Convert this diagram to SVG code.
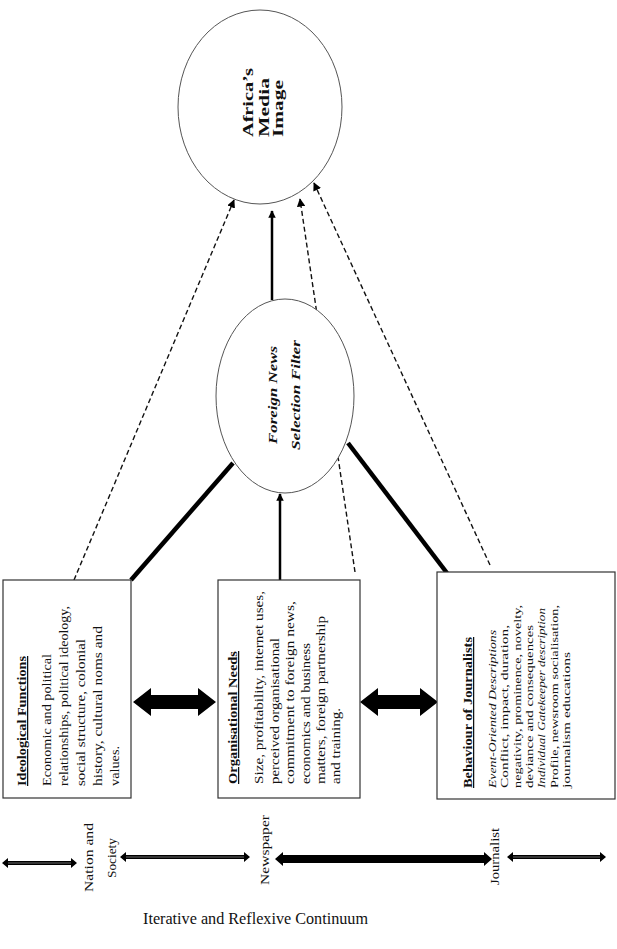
<svg xmlns="http://www.w3.org/2000/svg" width="617" height="949" viewBox="0 0 617 949">
<style>
text{font-family:"Liberation Serif","DejaVu Serif",serif;fill:#111}
.b{font-size:12px}
.s{font-size:11px}
.t{font-size:12.5px;font-weight:bold;text-decoration:underline}
.i{font-style:italic}
.box{fill:#fff;stroke:#333;stroke-width:1.2}
.ell{fill:#fff;stroke:#555;stroke-width:1}
.dash{stroke:#111;stroke-width:1.4;stroke-dasharray:5 3;fill:none}
.thick{stroke:#000;stroke-width:4.5}
.solid{stroke:#000;stroke-width:2.5}
.lab{font-size:11.5px}
</style>
<defs>
<marker id="ah" viewBox="0 0 10 10" refX="9" refY="5" markerWidth="6" markerHeight="6" orient="auto" markerUnits="strokeWidth"><path d="M0,0L10,5L0,10z" fill="#000"/></marker>
<marker id="ahs" viewBox="0 0 10 10" refX="9" refY="5" markerWidth="3" markerHeight="3" orient="auto" markerUnits="strokeWidth"><path d="M0,0L10,5L0,10z" fill="#000"/></marker>
</defs>
<g id="connectors">
<line class="dash" x1="74" y1="580" x2="234" y2="200" marker-end="url(#ah)"/>
<line class="dash" x1="355" y1="572" x2="300" y2="199" marker-end="url(#ah)"/>
<line class="dash" x1="490" y1="565" x2="314" y2="183" marker-end="url(#ah)"/>
<line class="solid" x1="272" y1="300" x2="272" y2="211" marker-end="url(#ahs)"/>
<line class="thick" x1="131" y1="580" x2="233" y2="463"/>
<line class="thick" x1="447" y1="573" x2="348" y2="443"/>
<line class="solid" x1="280" y1="580" x2="280" y2="494" marker-end="url(#ahs)"/>
<path d="M133,702 L151,688 L151,695 L198,695 L198,688 L216,702 L198,716 L198,709 L151,709 L151,716 Z" fill="#000"/>
<path d="M360,702 L378,688 L378,695 L420,695 L420,688 L438,702 L420,716 L420,709 L378,709 L378,716 Z" fill="#000"/>
</g>
<g id="africa-media-image">
<ellipse class="ell" cx="260" cy="107" rx="82" ry="97"/>
<text transform="translate(253,137) rotate(-90)" font-size="15" font-weight="bold" textLength="69" lengthAdjust="spacingAndGlyphs">Africa’s</text>
<text transform="translate(269,137) rotate(-90)" font-size="15" font-weight="bold" textLength="59" lengthAdjust="spacingAndGlyphs">Media</text>
<text transform="translate(283,137) rotate(-90)" font-size="15" font-weight="bold" textLength="57" lengthAdjust="spacingAndGlyphs">Image</text>
</g>
<g id="selection-filter">
<ellipse class="ell" cx="285" cy="396" rx="69" ry="97"/>
<text transform="translate(277,444) rotate(-90)" font-size="12" font-weight="bold" font-style="italic" textLength="98" lengthAdjust="spacingAndGlyphs">Foreign News</text>
<text transform="translate(300,450) rotate(-90)" font-size="12" font-weight="bold" font-style="italic" textLength="110" lengthAdjust="spacingAndGlyphs">Selection Filter</text>
</g>
<g id="ideological-functions">
<rect class="box" x="3" y="580" width="128" height="218"/>
<text class="t" transform="translate(26,786) rotate(-90)" textLength="130" lengthAdjust="spacingAndGlyphs">Ideological Functions</text>
<text class="b" transform="translate(51,786) rotate(-90)" textLength="132" lengthAdjust="spacingAndGlyphs">Economic and political</text>
<text class="b" transform="translate(68,786) rotate(-90)" textLength="180" lengthAdjust="spacingAndGlyphs">relationships, political ideology,</text>
<text class="b" transform="translate(85,786) rotate(-90)" textLength="147" lengthAdjust="spacingAndGlyphs">social structure, colonial</text>
<text class="b" transform="translate(102,786) rotate(-90)" textLength="160" lengthAdjust="spacingAndGlyphs">history, cultural noms and</text>
<text class="b" transform="translate(119,786) rotate(-90)" textLength="40" lengthAdjust="spacingAndGlyphs">values.</text>
</g>
<g id="organisational-needs">
<rect class="box" x="218" y="580" width="142" height="218"/>
<text class="t" transform="translate(237,784) rotate(-90)" textLength="133" lengthAdjust="spacingAndGlyphs">Organisational Needs</text>
<text class="b" transform="translate(263,784) rotate(-90)" textLength="193" lengthAdjust="spacingAndGlyphs">Size, profitability, internet uses,</text>
<text class="b" transform="translate(279,784) rotate(-90)" textLength="146" lengthAdjust="spacingAndGlyphs">perceived organisational</text>
<text class="b" transform="translate(294,784) rotate(-90)" textLength="183" lengthAdjust="spacingAndGlyphs">commitment to foreign news,</text>
<text class="b" transform="translate(310,784) rotate(-90)" textLength="141" lengthAdjust="spacingAndGlyphs">economics and business</text>
<text class="b" transform="translate(325,784) rotate(-90)" textLength="168" lengthAdjust="spacingAndGlyphs">matters, foreign partnership</text>
<text class="b" transform="translate(340,784) rotate(-90)" textLength="76" lengthAdjust="spacingAndGlyphs">and  training.</text>
</g>
<g id="behaviour-of-journalists">
<rect class="box" x="437" y="572" width="178" height="227"/>
<text class="t" transform="translate(472,788) rotate(-90)" textLength="151" lengthAdjust="spacingAndGlyphs">Behaviour of Journalists</text>
<text class="s i" transform="translate(496,788) rotate(-90)" textLength="158" lengthAdjust="spacingAndGlyphs">Event-Oriented Descriptions</text>
<text class="s" transform="translate(508,788) rotate(-90)" textLength="163" lengthAdjust="spacingAndGlyphs">Conflict, impact, duration,</text>
<text class="s" transform="translate(521,788) rotate(-90)" textLength="183" lengthAdjust="spacingAndGlyphs">negativity, prominence, novelty,</text>
<text class="s" transform="translate(533,788) rotate(-90)" textLength="163" lengthAdjust="spacingAndGlyphs">deviance and consequences</text>
<text class="s i" transform="translate(545,788) rotate(-90)" textLength="180" lengthAdjust="spacingAndGlyphs">Individual Gatekeeper description</text>
<text class="s" transform="translate(558,788) rotate(-90)" textLength="183" lengthAdjust="spacingAndGlyphs">Profile, newsroom socialisation,</text>
<text class="s" transform="translate(570,788) rotate(-90)" textLength="136" lengthAdjust="spacingAndGlyphs">journalism educations</text>
</g>
<g id="continuum">
<path d="M2,863 L8,858 L8,861 L71,861 L71,858 L77,863 L71,868 L71,865 L8,865 L8,868 Z" fill="#000"/>
<line x1="8" y1="863" x2="71" y2="863" stroke="#888" stroke-width="0.8"/>
<path d="M120,857 L126,852 L126,855 L244,855 L244,852 L250,857 L244,862 L244,859 L126,859 L126,862 Z" fill="#000"/>
<line x1="126" y1="857" x2="244" y2="857" stroke="#888" stroke-width="0.8"/>
<path d="M275,859 L283,852 L283,855 L484,855 L484,852 L492,859 L484,866 L484,863 L283,863 L283,866 Z" fill="#000"/>
<path d="M507,857 L513,852 L513,855 L600,855 L600,852 L606,857 L600,862 L600,859 L513,859 L513,862 Z" fill="#000"/>
<line x1="513" y1="857" x2="600" y2="857" stroke="#888" stroke-width="0.8"/>
<text class="lab" transform="translate(93,892) rotate(-90)" textLength="69" lengthAdjust="spacingAndGlyphs">Nation and</text>
<text class="lab" transform="translate(116,878) rotate(-90)" textLength="40" lengthAdjust="spacingAndGlyphs">Society</text>
<text class="lab" transform="translate(269,885) rotate(-90)" textLength="70" lengthAdjust="spacingAndGlyphs">Newspaper</text>
<text class="lab" transform="translate(499,885) rotate(-90)" textLength="57" lengthAdjust="spacingAndGlyphs">Journalist</text>
<text x="143" y="924" font-size="16" textLength="225" lengthAdjust="spacingAndGlyphs">Iterative and Reflexive Continuum</text>
</g>
</svg>
